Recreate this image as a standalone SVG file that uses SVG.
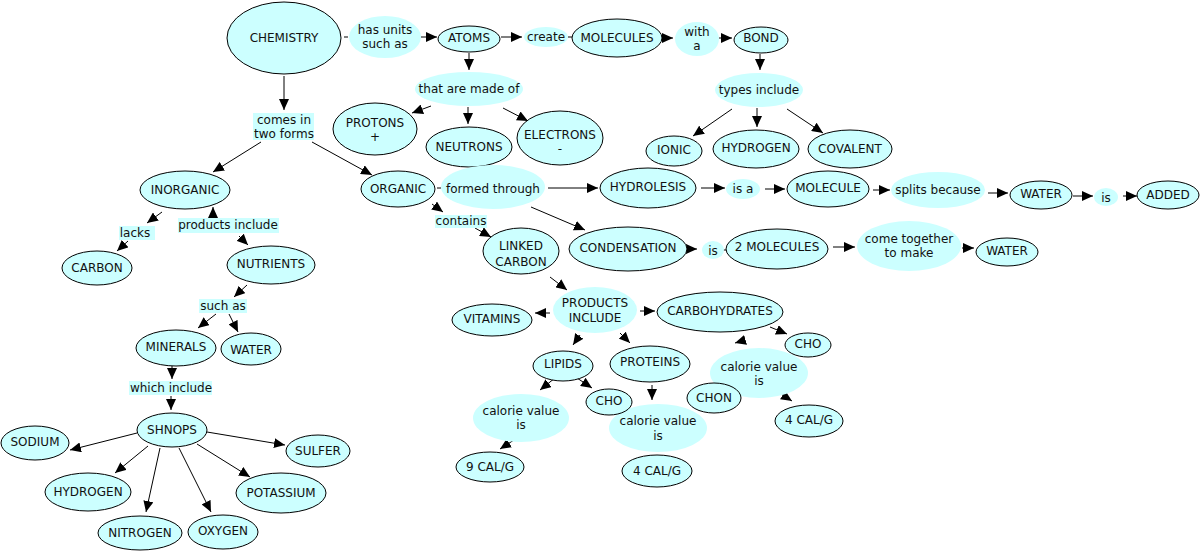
<svg xmlns="http://www.w3.org/2000/svg" width="1201" height="554" viewBox="0 0 1201 554">
  <style>
    .c { fill: #ccffff; stroke: #000; stroke-width: 1; }
    .p { fill: #ccffff; stroke: none; }
    .t { font-family: "DejaVu Sans", Verdana, sans-serif; font-size: 12px; fill: #111; text-anchor: middle; dominant-baseline: central; }
    .ln { stroke: #000; stroke-width: 1; fill: none; }
    .ar { marker-end: url(#head); }
  </style>
  <defs>
    <marker id="head" markerUnits="userSpaceOnUse" markerWidth="11" markerHeight="10" viewBox="0 0 11 10" refX="11" refY="5" orient="auto">
      <path d="M0,0 L11,5 L0,10 z" fill="#000"/>
    </marker>
  </defs>
  <rect width="1201" height="554" fill="#fff"/>

  <!-- connectors -->
  <g id="connectors">
    <line class="ln" x1="344" y1="37" x2="348" y2="37"/>
    <line class="ln ar" x1="421" y1="37" x2="437" y2="37"/>
    <line class="ln ar" x1="501" y1="37" x2="522" y2="37"/>
    <line class="ln" x1="568" y1="37" x2="572" y2="37"/>
    <line class="ln ar" x1="662" y1="38" x2="673" y2="38"/>
    <line class="ln ar" x1="719" y1="38" x2="732" y2="38"/>
    <line class="ln ar" x1="760" y1="54" x2="760" y2="70"/>
    <line class="ln ar" x1="732" y1="109" x2="693" y2="136"/>
    <line class="ln ar" x1="757" y1="108" x2="757" y2="127"/>
    <line class="ln ar" x1="787" y1="109" x2="823" y2="133"/>
    <line class="ln ar" x1="469" y1="53" x2="469" y2="70"/>
    <line class="ln ar" x1="431" y1="106" x2="412" y2="113"/>
    <line class="ln ar" x1="468" y1="107" x2="468" y2="124"/>
    <line class="ln ar" x1="503" y1="108" x2="528" y2="121"/>
    <line class="ln ar" x1="284" y1="76" x2="284" y2="110"/>
    <line class="ln ar" x1="261" y1="142" x2="213" y2="172"/>
    <line class="ln ar" x1="312" y1="142" x2="372" y2="175"/>
    <line class="ln ar" x1="162" y1="212" x2="147" y2="223"/>
    <line class="ln ar" x1="128" y1="241" x2="117" y2="251"/>
    <line class="ln ar" x1="213" y1="218" x2="213" y2="207"/>
    <line class="ln ar" x1="239" y1="236" x2="248" y2="245"/>
    <line class="ln ar" x1="247" y1="285" x2="234" y2="297"/>
    <line class="ln ar" x1="216" y1="314" x2="198" y2="328"/>
    <line class="ln ar" x1="229" y1="314" x2="238" y2="332"/>
    <line class="ln ar" x1="172" y1="366" x2="172" y2="379"/>
    <line class="ln ar" x1="171" y1="396" x2="171" y2="410"/>
    <line class="ln ar" x1="137" y1="433" x2="70" y2="450"/>
    <line class="ln ar" x1="207" y1="432" x2="285" y2="445"/>
    <line class="ln ar" x1="148" y1="446" x2="115" y2="473"/>
    <line class="ln ar" x1="160" y1="448" x2="146" y2="512"/>
    <line class="ln ar" x1="179" y1="448" x2="211" y2="512"/>
    <line class="ln ar" x1="197" y1="444" x2="250" y2="477"/>
    <line class="ln" x1="437" y1="188" x2="441" y2="188"/>
    <line class="ln ar" x1="548" y1="188" x2="598" y2="188"/>
    <line class="ln ar" x1="701" y1="188" x2="725" y2="188"/>
    <line class="ln ar" x1="765" y1="189" x2="785" y2="189"/>
    <line class="ln ar" x1="873" y1="190" x2="890" y2="190"/>
    <line class="ln ar" x1="988" y1="193" x2="1008" y2="193"/>
    <line class="ln ar" x1="1073" y1="196" x2="1093" y2="196"/>
    <line class="ln ar" x1="1123" y1="196" x2="1137" y2="196"/>
    <line class="ln ar" x1="531" y1="207" x2="585" y2="230"/>
    <line class="ln ar" x1="687" y1="249" x2="697" y2="249"/>
    <line class="ln" x1="723" y1="250" x2="727" y2="250"/>
    <line class="ln ar" x1="833" y1="247" x2="855" y2="247"/>
    <line class="ln ar" x1="962" y1="248" x2="974" y2="248"/>
    <line class="ln ar" x1="432" y1="204" x2="443" y2="212"/>
    <line class="ln ar" x1="475" y1="228" x2="491" y2="237"/>
    <line class="ln ar" x1="550" y1="277" x2="567" y2="290"/>
    <line class="ln ar" x1="550" y1="313" x2="535" y2="313"/>
    <line class="ln ar" x1="640" y1="311" x2="655" y2="311"/>
    <line class="ln ar" x1="580" y1="335" x2="573" y2="345"/>
    <line class="ln ar" x1="620" y1="333" x2="630" y2="343"/>
    <line class="ln ar" x1="770" y1="327" x2="787" y2="334"/>
    <line class="ln ar" x1="745" y1="340" x2="735" y2="343"/>
    <line class="ln ar" x1="778" y1="392" x2="792" y2="401"/>
    <line class="ln ar" x1="577" y1="378" x2="592" y2="388"/>
    <line class="ln ar" x1="555" y1="378" x2="540" y2="390"/>
    <line class="ln ar" x1="514" y1="440" x2="500" y2="449"/>
    <line class="ln ar" x1="652" y1="385" x2="652" y2="400"/>
  </g>

  <!-- top row -->
  <g id="chemistry"><ellipse class="c" cx="284" cy="38" rx="57" ry="36"/><text class="t" x="284" y="38">CHEMISTRY</text></g>
  <g id="has-units"><ellipse class="p" cx="385" cy="37" rx="36" ry="21"/><text class="t" x="385" y="30">has units</text><text class="t" x="385" y="44">such as</text></g>
  <g id="atoms"><ellipse class="c" cx="469" cy="39" rx="31" ry="13"/><text class="t" x="469" y="38">ATOMS</text></g>
  <g id="create"><ellipse class="p" cx="546" cy="37" rx="22" ry="10"/><text class="t" x="546" y="37">create</text></g>
  <g id="molecules"><ellipse class="c" cx="617" cy="38" rx="45" ry="19"/><text class="t" x="617" y="38">MOLECULES</text></g>
  <g id="with-a"><ellipse class="p" cx="697" cy="39" rx="22" ry="17"/><text class="t" x="697" y="32">with</text><text class="t" x="697" y="46">a</text></g>
  <g id="bond"><ellipse class="c" cx="761" cy="40" rx="27" ry="13"/><text class="t" x="761" y="38">BOND</text></g>
  <g id="types-include"><ellipse class="p" cx="759" cy="90" rx="44" ry="17"/><text class="t" x="759" y="90">types include</text></g>
  <g id="ionic"><ellipse class="c" cx="674" cy="151" rx="28" ry="15"/><text class="t" x="674" y="150">IONIC</text></g>
  <g id="hydrogen-bond"><ellipse class="c" cx="756" cy="149" rx="43" ry="19"/><text class="t" x="756" y="148">HYDROGEN</text></g>
  <g id="covalent"><ellipse class="c" cx="850" cy="149" rx="42" ry="19"/><text class="t" x="850" y="149">COVALENT</text></g>

  <!-- atom parts -->
  <g id="made-of"><ellipse class="p" cx="469" cy="89" rx="54" ry="17"/><text class="t" x="469" y="89">that are made of</text></g>
  <g id="protons"><ellipse class="c" cx="375" cy="129" rx="42" ry="26"/><text class="t" x="375" y="123">PROTONS</text><text class="t" x="375" y="137">+</text></g>
  <g id="neutrons"><ellipse class="c" cx="469" cy="147" rx="43" ry="20"/><text class="t" x="469" y="147">NEUTRONS</text></g>
  <g id="electrons"><ellipse class="c" cx="560" cy="138" rx="43" ry="27"/><text class="t" x="560" y="135">ELECTRONS</text><text class="t" x="560" y="149">-</text></g>

  <!-- two forms -->
  <g id="two-forms"><rect class="p" x="253" y="113" width="61" height="27"/><text class="t" x="284" y="120">comes in</text><text class="t" x="284" y="134">two forms</text></g>
  <g id="inorganic"><ellipse class="c" cx="185" cy="190" rx="45" ry="19"/><text class="t" x="185" y="190">INORGANIC</text></g>
  <g id="organic"><ellipse class="c" cx="398" cy="189" rx="37" ry="18"/><text class="t" x="398" y="189">ORGANIC</text></g>

  <!-- inorganic branch -->
  <g id="lacks"><rect class="p" x="119" y="226" width="36" height="14"/><text class="t" x="135" y="233">lacks</text></g>
  <g id="carbon"><ellipse class="c" cx="97" cy="268" rx="35" ry="17"/><text class="t" x="97" y="268">CARBON</text></g>
  <g id="products-include"><rect class="p" x="178" y="218" width="101" height="15"/><text class="t" x="228" y="225">products include</text></g>
  <g id="nutrients"><ellipse class="c" cx="271" cy="265" rx="44" ry="19"/><text class="t" x="271" y="264">NUTRIENTS</text></g>
  <g id="such-as"><rect class="p" x="199" y="299" width="48" height="14"/><text class="t" x="223" y="306">such as</text></g>
  <g id="minerals"><ellipse class="c" cx="176" cy="348" rx="40" ry="18"/><text class="t" x="176" y="347">MINERALS</text></g>
  <g id="water-nutrient"><ellipse class="c" cx="251" cy="349" rx="30" ry="16"/><text class="t" x="251" y="350">WATER</text></g>
  <g id="which-include"><rect class="p" x="129" y="381" width="83" height="14"/><text class="t" x="171" y="388">which include</text></g>
  <g id="shnops"><ellipse class="c" cx="172" cy="430" rx="35" ry="17"/><text class="t" x="172" y="430">SHNOPS</text></g>
  <g id="sodium"><ellipse class="c" cx="35" cy="443" rx="34" ry="17"/><text class="t" x="35" y="442">SODIUM</text></g>
  <g id="sulfer"><ellipse class="c" cx="318" cy="451" rx="32" ry="16"/><text class="t" x="318" y="451">SULFER</text></g>
  <g id="hydrogen-el"><ellipse class="c" cx="88" cy="492" rx="43" ry="19"/><text class="t" x="88" y="492">HYDROGEN</text></g>
  <g id="nitrogen"><ellipse class="c" cx="140" cy="533" rx="42" ry="17"/><text class="t" x="140" y="533">NITROGEN</text></g>
  <g id="oxygen"><ellipse class="c" cx="223" cy="532" rx="35" ry="17"/><text class="t" x="223" y="531">OXYGEN</text></g>
  <g id="potassium"><ellipse class="c" cx="281" cy="493" rx="45" ry="20"/><text class="t" x="281" y="493">POTASSIUM</text></g>

  <!-- organic branch: reactions -->
  <g id="formed-through"><ellipse class="p" cx="493" cy="187" rx="52" ry="22"/><text class="t" x="493" y="189">formed through</text></g>
  <g id="hydrolesis"><ellipse class="c" cx="648" cy="188" rx="48" ry="20"/><text class="t" x="648" y="187">HYDROLESIS</text></g>
  <g id="is-a"><ellipse class="p" cx="743" cy="189" rx="17" ry="10"/><text class="t" x="743" y="189">is a</text></g>
  <g id="molecule"><ellipse class="c" cx="828" cy="189" rx="41" ry="18"/><text class="t" x="828" y="188">MOLECULE</text></g>
  <g id="splits-because"><ellipse class="p" cx="938" cy="190" rx="47" ry="18"/><text class="t" x="938" y="190">splits because</text></g>
  <g id="water-split"><ellipse class="c" cx="1041" cy="195" rx="31" ry="14"/><text class="t" x="1041" y="194">WATER</text></g>
  <g id="is-added"><ellipse class="p" cx="1106" cy="197" rx="12" ry="9"/><text class="t" x="1106" y="198">is</text></g>
  <g id="added"><ellipse class="c" cx="1168" cy="195" rx="31" ry="14"/><text class="t" x="1168" y="195">ADDED</text></g>
  <g id="condensation"><ellipse class="c" cx="628" cy="249" rx="59" ry="22"/><text class="t" x="628" y="248">CONDENSATION</text></g>
  <g id="is-two"><ellipse class="p" cx="713" cy="250" rx="11" ry="9"/><text class="t" x="713" y="251">is</text></g>
  <g id="two-molecules"><ellipse class="c" cx="777" cy="249" rx="51" ry="20"/><text class="t" x="777" y="247">2 MOLECULES</text></g>
  <g id="come-together"><ellipse class="p" cx="909" cy="246" rx="52" ry="25"/><text class="t" x="909" y="239">come together</text><text class="t" x="909" y="253">to make</text></g>
  <g id="water-made"><ellipse class="c" cx="1007" cy="252" rx="31" ry="14"/><text class="t" x="1007" y="251">WATER</text></g>

  <!-- organic branch: products (linking phrases first, concepts on top) -->
  <g id="contains"><rect class="p" x="435" y="215" width="52" height="13"/><text class="t" x="461" y="221">contains</text></g>
  <g id="linked-carbon"><ellipse class="c" cx="521" cy="251" rx="38" ry="23"/><text class="t" x="521" y="246">LINKED</text><text class="t" x="521" y="262">CARBON</text></g>
  <g id="products-upper"><ellipse class="p" cx="595" cy="310" rx="42" ry="23"/><text class="t" x="595" y="303">PRODUCTS</text><text class="t" x="595" y="318">INCLUDE</text></g>
  <g id="cal-carb"><ellipse class="p" cx="759" cy="373" rx="49" ry="25"/><text class="t" x="759" y="367">calorie value</text><text class="t" x="759" y="381">is</text></g>
  <g id="cal-lipid"><ellipse class="p" cx="521" cy="418" rx="48" ry="24"/><text class="t" x="521" y="411">calorie value</text><text class="t" x="521" y="425">is</text></g>
  <g id="cal-protein"><ellipse class="p" cx="658" cy="428" rx="49" ry="24"/><text class="t" x="658" y="421">calorie value</text><text class="t" x="658" y="436">is</text></g>
  <g id="vitamins"><ellipse class="c" cx="492" cy="320" rx="40" ry="16"/><text class="t" x="492" y="319">VITAMINS</text></g>
  <g id="carbohydrates"><ellipse class="c" cx="720" cy="312" rx="63" ry="20"/><text class="t" x="720" y="311">CARBOHYDRATES</text></g>
  <g id="lipids"><ellipse class="c" cx="563" cy="366" rx="30" ry="15"/><text class="t" x="563" y="364">LIPIDS</text></g>
  <g id="proteins"><ellipse class="c" cx="650" cy="364" rx="40" ry="18"/><text class="t" x="650" y="362">PROTEINS</text></g>
  <g id="cho-carb"><ellipse class="c" cx="808" cy="345" rx="23" ry="12"/><text class="t" x="808" y="344">CHO</text></g>
  <g id="cal4-carb"><ellipse class="c" cx="809" cy="421" rx="34" ry="16"/><text class="t" x="809" y="420">4 CAL/G</text></g>
  <g id="cho-lipid"><ellipse class="c" cx="609" cy="402" rx="23" ry="13"/><text class="t" x="609" y="401">CHO</text></g>
  <g id="chon"><ellipse class="c" cx="714" cy="398" rx="27" ry="15"/><text class="t" x="714" y="398">CHON</text></g>
  <g id="cal9-lipid"><ellipse class="c" cx="490" cy="467" rx="34" ry="15"/><text class="t" x="490" y="467">9 CAL/G</text></g>
  <g id="cal4-protein"><ellipse class="c" cx="657" cy="471" rx="35" ry="16"/><text class="t" x="657" y="471">4 CAL/G</text></g>
</svg>
